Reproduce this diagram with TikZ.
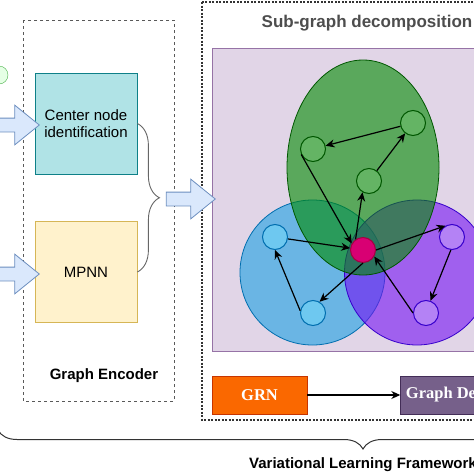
\documentclass[tikz,border=0pt]{standalone}
\usepackage{fontspec}
\setmainfont{Liberation Sans}
\newfontfamily\boxserif{Liberation Serif}
\usetikzlibrary{positioning, shapes.arrows, decorations.pathreplacing, arrows.meta}

\definecolor{cnifill}{HTML}{B0E3E6}
\definecolor{cniline}{HTML}{0E8088}
\definecolor{mpnnfill}{HTML}{FFF2CC}
\definecolor{mpnnline}{HTML}{D6B656}
\definecolor{arrfill}{HTML}{DAE8FC}
\definecolor{arrline}{HTML}{6C8EBF}
\definecolor{panelfill}{HTML}{E1D5E7}
\definecolor{panelline}{HTML}{9673A6}
\definecolor{grnfill}{HTML}{FA6800}
\definecolor{grnline}{HTML}{C73500}
\definecolor{gdecfill}{HTML}{76608A}
\definecolor{gdecline}{HTML}{432D57}
\definecolor{setgreen}{HTML}{008A00}
\definecolor{setgreenline}{HTML}{005700}
\definecolor{setblue}{HTML}{1BA1E2}
\definecolor{setblueline}{HTML}{006EAF}
\definecolor{setpurple}{HTML}{7512F3}
\definecolor{setpurpleline}{HTML}{3700CC}
\definecolor{gnode}{HTML}{64B464}
\definecolor{bnode}{HTML}{6EC8F0}
\definecolor{pnode}{HTML}{B482F5}
\definecolor{cnode}{HTML}{D80073}
\definecolor{cnodeline}{HTML}{A50040}
\definecolor{titlegray}{HTML}{4D4D4D}

\tikzset{
  blockarrow/.style={single arrow, draw=arrline, fill=arrfill, line width=0.8pt,
    minimum height=49pt, inner xsep=0pt, inner ysep=6.5pt, single arrow head extend=13pt,
    single arrow tip angle=78},
  stagebox/.style={draw, line width=0.8pt, minimum width=102pt, minimum height=101pt,
    align=center, font=\fontsize{15}{17}\selectfont},
  outbox/.style={draw, line width=0.8pt, minimum height=38pt, text=white,
    font=\boxserif\bfseries\fontsize{16.5}{19}\selectfont},
  setshape/.style={line width=0.8pt, fill opacity=0.6}
}

\begin{document}
\begin{tikzpicture}[x=1pt, y=-1pt, >={Stealth[length=9pt,width=8pt]}]
  \useasboundingbox (0,0) rectangle (474,474);
  \clip (0,0) rectangle (474,474);
  % frames
  \draw[black!65, line width=0.9pt, dash pattern=on 3pt off 3pt] (23,20) rectangle (174,401);
  \draw[black!80, line width=1.1pt, dash pattern=on 2pt off 1.5pt] (202,2) rectangle (560,420);
  \fill[panelfill, draw=panelline, line width=0.8pt] (212,48) rectangle (560,351);
  \node (seed) [circle, draw=green!40!gray, fill=green!10, minimum size=18pt] at (-1,75) {};

  % graph encoder
  \node (cni) [stagebox, draw=cniline, fill=cnifill] at (86,123.5) {Center node\\identification};
  \node (mpnn) [stagebox, draw=mpnnline, fill=mpnnfill] at (86,272) {MPNN};
  \node (ina) [blockarrow] at (10.5,125) {};
  \node (inb) [blockarrow] at (10.5,274) {};
  \draw[black!60, line width=0.9pt, decorate, decoration={brace, amplitude=22pt}] (cni.east) -- (mpnn.east);
  \node (mida) [blockarrow] at (186.5,199) {};
  \node (enclbl) [font=\bfseries\fontsize{15}{17}\selectfont] at (104,376) {Graph Encoder};

  % sub-graph decomposition
  \node (sublbl) [text=titlegray, font=\bfseries\fontsize{17}{20}\selectfont] at (367,23) {Sub-graph decomposition};
  \fill[setblue, draw=setblueline, setshape] (312.5,272.5) circle [radius=72.5];
  \fill[setpurple, draw=setpurpleline, setshape] (417,272.5) circle [radius=72.5];
  \fill[setgreen, draw=setgreenline, setshape] (363,167.5) ellipse [x radius=76, y radius=107.5];
  \begin{scope}[every node/.style={circle, draw, line width=1pt, minimum size=25pt, inner sep=0pt}]
    \node (g1) [fill=gnode, draw=setgreenline] at (313,149) {};
    \node (g2) [fill=gnode, draw=setgreenline] at (369,181) {};
    \node (g3) [fill=gnode, draw=setgreenline] at (413,123) {};
    \node (b1) [fill=bnode, draw=setblueline] at (275,237) {};
    \node (b2) [fill=bnode, draw=setblueline] at (313,313) {};
    \node (p1) [fill=pnode, draw=setpurpleline] at (452,237) {};
    \node (p2) [fill=pnode, draw=setpurpleline] at (426,313) {};
    \node (c) [fill=cnode, draw=cnodeline] at (363,250) {};
  \end{scope}
  \begin{scope}[line width=1.2pt]
    \path[->] (g3) edge (g1);
    \path[->] (g2) edge (g3);
    \path[->] (c.125) edge (g2.240);
    \path[->] (g1.205) edge (c.150);
    \path[->] (b1) edge (c);
    \path[->] (c.south) edge (b2.60);
    \path[->] (b2.170) edge (b1.south);
    \path[->] (c.east) edge (p1.120);
    \path[->] (p1.265) edge (p2.70);
    \path[->] (p2.west) edge (c.330);
  \end{scope}
  \node (grn) [outbox, fill=grnfill, draw=grnline, minimum width=95pt] at (259.5,395) {GRN};
  \node (gdec) [outbox, fill=gdecfill, draw=gdecline, minimum width=120pt] at (460.7,395) {Graph Decoder};
  \draw[->, line width=1.2pt] (grn) -- (gdec);

  % framework brace
  \coordinate (vr) at (728,430);
  \coordinate (vl) at (-2,430);
  \draw[black!80, line width=1pt, decorate, decoration={brace, amplitude=19pt}] (vr) -- (vl);
  \node (vlf) [font=\bfseries\fontsize{15}{17}\selectfont] at (363,465) {Variational Learning Framework};
\end{tikzpicture}
\end{document}
